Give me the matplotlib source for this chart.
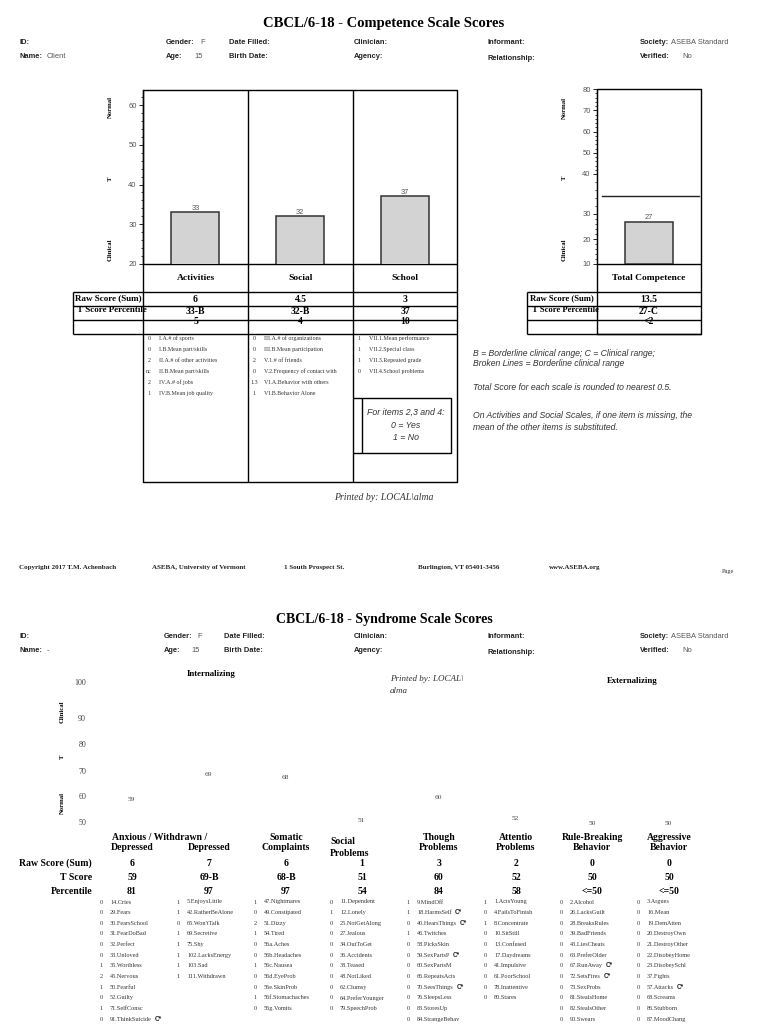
import numpy as np
import matplotlib
matplotlib.use('Agg')
import matplotlib.pyplot as plt
from matplotlib.ticker import MultipleLocator, FixedLocator

W, H = 768, 1024
SERIF = 'Liberation Serif'
SANS = 'Liberation Sans'

# ---------------- data: competence ----------------
comp_scales = ['Activities', 'Social', 'School']
comp_t = [33, 32, 37]
comp_raw = ['6', '4.5', '3']
comp_tcode = ['33-B', '32-B', '37']
comp_pct = ['5', '4', '10']
comp_yticks = [20, 30, 40, 50, 60]

total_label = ['Total Competence']
total_t = [27]
total_raw = ['13.5']
total_tcode = ['27-C']
total_pct = ['<2']
total_borderline = 34.5
total_yticks = [10, 20, 30, 40, 50, 60, 70, 80]

activities_items = [('0', 'I.A.# of sports'), ('0', 'I.B.Mean part/skills'),
                    ('2', 'II.A.# of other activities'), ('nc', 'II.B.Mean part/skills'),
                    ('2', 'IV.A.# of jobs'), ('1', 'IV.B.Mean job quality')]
social_items = [('0', 'III.A.# of organizations'), ('0', 'III.B.Mean participation'),
                ('2', 'V.1.# of friends'), ('0', 'V.2.Frequency of contact with'),
                ('1.3', 'VI.A.Behavior with others'), ('1', 'VI.B.Behavior Alone')]
school_items = [('1', 'VII.1.Mean performance'), ('1', 'VII.2.Special class'),
                ('1', 'VII.3.Repeated grade'), ('0', 'VII.4.School problems')]

# ---------------- data: syndromes ----------------
syn_headers = [('Anxious / Withdrawn /', 'Depressed'), ('', 'Depressed'),
               ('Somatic', 'Complaints'), ('Social', 'Problems'),
               ('Though', 'Problems'), ('Attentio', 'Problems'),
               ('Rule-Breaking', 'Behavior'), ('Aggressive', 'Behavior')]
syn_t = [59, 69, 68, 51, 60, 52, 50, 50]
syn_raw = ['6', '7', '6', '1', '3', '2', '0', '0']
syn_tcode = ['59', '69-B', '68-B', '51', '60', '52', '50', '50']
syn_pct = ['81', '97', '97', '54', '84', '58', '<=50', '<=50']
syn_yticks = [50, 60, 70, 80, 90, 100]

anx_items = [('0', '14.Cries'), ('0', '29.Fears'), ('0', '30.FearsSchool'), ('0', '31.FearDoBad'),
             ('0', '32.Perfect'), ('0', '33.Unloved'), ('1', '35.Worthless'), ('2', '45.Nervous'),
             ('1', '50.Fearful'), ('0', '52.Guilty'), ('1', '71.SelfConsc'), ('0', '91.ThinkSuicide C*')]
wd_items = [('1', '5.EnjoysLittle'), ('1', '42.RatherBeAlone'), ('0', "65.Won'tTalk"),
            ('1', '69.Secretive'), ('1', '75.Shy'), ('1', '102.LacksEnergy'), ('1', '103.Sad'),
            ('1', '111.Withdrawn')]
som_items = [('1', '47.Nightmares'), ('0', '49.Constipated'), ('2', '51.Dizzy'), ('1', '54.Tired'),
             ('0', '56a.Aches'), ('0', '56b.Headaches'), ('1', '56c.Nausea'), ('0', '56d.EyeProb'),
             ('0', '56e.SkinProb'), ('1', '56f.Stomachaches'), ('0', '56g.Vomits')]
soc_items = [('0', '11.Dependent'), ('1', '12.Lonely'), ('0', '25.NotGetAlong'), ('0', '27.Jealous'),
             ('0', '34.OutToGet'), ('0', '36.Accidents'), ('0', '38.Teased'), ('0', '48.NotLiked'),
             ('0', '62.Clumsy'), ('0', '64.PreferYounger'), ('0', '79.SpeechProb')]
tho_items = [('1', '9.MindOff'), ('1', '18.HarmsSelf C*'), ('0', '40.HearsThings C*'),
             ('1', '46.Twitches'), ('0', '58.PicksSkin'), ('0', '59.SexPartsP C*'),
             ('0', '60.SexPartsM'), ('0', '66.RepeatsActs'), ('0', '70.SeesThings C*'),
             ('0', '76.SleepsLess'), ('0', '83.StoresUp'), ('0', '84.StrangeBehav')]
att_items = [('1', '1.ActsYoung'), ('0', '4.FailsToFinish'), ('1', '8.Concentrate'),
             ('0', '10.SitStill'), ('0', '13.Confused'), ('0', '17.Daydreams'), ('0', '41.Impulsive'),
             ('0', '61.PoorSchool'), ('0', '78.Inattentive'), ('0', '80.Stares')]
rule_items = [('0', '2.Alcohol'), ('0', '26.LacksGuilt'), ('0', '28.BreaksRules'),
              ('0', '39.BadFriends'), ('0', '43.LiesCheats'), ('0', '63.PreferOlder'),
              ('0', '67.RunAway C*'), ('0', '72.SetsFires C*'), ('0', '73.SexProbs'),
              ('0', '81.StealsHome'), ('0', '82.StealsOther'), ('0', '90.Swears')]
agg_items = [('0', '3.Argues'), ('0', '16.Mean'), ('0', '19.DemAtten'), ('0', '20.DestroyOwn'),
             ('0', '21.DestroyOther'), ('0', '22.DisobeyHome'), ('0', '23.DisobeySchl'),
             ('0', '37.Fights'), ('0', '57.Attacks C*'), ('0', '68.Screams'), ('0', '86.Stubborn'),
             ('0', '87.MoodChang')]
syn_items = [anx_items, wd_items, som_items, soc_items, tho_items, att_items, rule_items, agg_items]

# ---------------- figure ----------------
fig = plt.figure(figsize=(W / 100, H / 100), dpi=100)
fig.patch.set_facecolor('white')
bg = fig.add_axes([0, 0, 1, 1], zorder=0)
bg.set_xlim(0, W)
bg.set_ylim(H, 0)
bg.axis('off')


def px_axes(x0, y0, x1, y1, z=2):
    a = fig.add_axes([x0 / W, 1 - y1 / H, (x1 - x0) / W, (y1 - y0) / H], zorder=z)
    a.set_facecolor('none')
    return a


def T(x, y, s, size=6, fam=SERIF, weight='normal', style='normal', ha='left', va='center',
      color='black', rot=0):
    return bg.text(x, y, s, fontsize=size, family=fam, fontweight=weight, fontstyle=style,
                   ha=ha, va=va, color=color, rotation=rot)


def L(xs, ys, lw=1.0, color='black'):
    bg.plot(xs, ys, color=color, lw=lw, solid_capstyle='butt')


def header(y1, y2, name, gx, gvx, ax_, avx, dx):
    hs = dict(size=5.4, fam=SANS, weight='bold', color='#222')
    vs = dict(size=5.4, fam=SANS, color='#555')
    T(19, y1, 'ID:', **hs)
    T(gx, y1, 'Gender:', **hs); T(gvx, y1, 'F', **vs)
    T(dx, y1, 'Date Filled:', **hs)
    T(354, y1, 'Clinician:', **hs)
    T(487, y1, 'Informant:', **hs)
    T(640, y1, 'Society:', **hs); T(671, y1, 'ASEBA Standard', **vs)
    T(19, y2, 'Name:', **hs); T(47, y2, name, **vs)
    T(ax_, y2, 'Age:', **hs); T(avx, y2, '15', **vs)
    T(dx, y2, 'Birth Date:', **hs)
    T(354, y2, 'Agency:', **hs)
    T(487, y2 + 1, 'Relationship:', **hs)
    T(640, y2, 'Verified:', **hs); T(682, y2, 'No', **vs)


# ================= Competence page =================
T(384, 24, 'CBCL/6-18 - Competence Scale Scores', size=10.5, weight='bold', ha='center')
header(43, 57, 'Client', 166, 200, 166, 194, 229)

# main competence chart
ax1 = px_axes(143, 90, 457, 264)
xs = np.arange(len(comp_scales))
b1 = ax1.bar(xs, comp_t, width=0.46, bottom=0, color='#d3d3d3', edgecolor='#333', lw=1.1, zorder=3)
ax1.bar_label(b1, padding=0.5, fontsize=5.3, color='#555', family=SANS)
ax1.set_xlim(-0.5, len(comp_scales) - 0.5)
ax1.set_ylim(20, 63.8)
ax1.set_xticks([])
ax1.yaxis.set_major_locator(FixedLocator(comp_yticks))
ax1.yaxis.set_minor_locator(MultipleLocator(2))
ax1.tick_params(axis='y', which='major', direction='out', length=3, width=0.6,
                labelsize=5.5, labelcolor='#555', pad=1.5)
ax1.tick_params(axis='y', which='minor', direction='out', length=1.5, width=0.5)
for lab in ax1.get_yticklabels():
    lab.set_family(SANS)
for s in ['top', 'right', 'bottom']:
    ax1.spines[s].set_visible(False)
ax1.spines['left'].set_linewidth(1.0)

# frame and table lines
L([143, 457, 457, 143, 143], [90, 90, 482, 482, 90])
for xv in (248, 353):
    L([xv, xv], [90, 482])
L([143, 457], [264, 264])
for yv in (292, 306, 320, 334):
    L([73, 457], [yv, yv])
L([73, 73], [292, 334])

T(110, 107, 'Normal', size=4.8, weight='bold', rot=90, ha='center')
T(110, 179, 'T', size=4.8, weight='bold', rot=90, ha='center')
T(110, 250, 'Clinical', size=4.8, weight='bold', rot=90, ha='center')

centers = [195.5, 300.5, 405]
for cx, nm, r, tc, p in zip(centers, comp_scales, comp_raw, comp_tcode, comp_pct):
    T(cx, 278, nm, size=6.8, weight='bold', ha='center')
    T(cx, 299, r, size=7, weight='bold', ha='center')
    T(cx, 311, tc, size=7, weight='bold', ha='center')
    T(cx, 322, p, size=7, weight='bold', ha='center')
T(75, 298, 'Raw Score (Sum)', size=6.5, weight='bold')
T(77, 310, 'T Score Percentile', size=6.5, weight='bold')

for (vx, tx), items in zip([(149, 159), (254, 264), (359, 369)],
                           [activities_items, social_items, school_items]):
    for i, (v, t) in enumerate(items):
        y = 338 + i * 11.1
        T(vx, y, v, size=4.3, ha='center', color='#333')
        T(tx, y, t, size=4.3, color='#333')

# "For items" box
L([353, 451, 451, 353], [398, 398, 453, 453])
L([362, 362], [398, 453])
T(406, 412, 'For items 2,3 and 4:', size=6.3, fam=SANS, style='italic', ha='center', color='#333')
T(406, 425, '0 = Yes', size=6.3, fam=SANS, style='italic', ha='center', color='#333')
T(406, 437, '1 = No', size=6.3, fam=SANS, style='italic', ha='center', color='#333')

# total competence chart
tc_vals = [10, 30, 40, 80]
tc_pos = [0, 50, 90, 175]
ax2 = px_axes(597, 89, 701, 264)
ax2.set_yscale('function', functions=(lambda v: np.interp(v, tc_vals, tc_pos),
                                      lambda u: np.interp(u, tc_pos, tc_vals)))
b2 = ax2.bar([0], total_t, width=0.46, bottom=0, color='#d3d3d3', edgecolor='#333', lw=1.1, zorder=3)
ax2.bar_label(b2, padding=0.5, fontsize=5.3, color='#555', family=SANS)
ax2.axhline(total_borderline, xmin=0.05, xmax=0.98, color='#222', lw=1.0)
ax2.set_xlim(-0.5, 0.5)
ax2.set_ylim(10, 80)
ax2.set_xticks([])
ax2.yaxis.set_major_locator(FixedLocator(total_yticks))
ax2.yaxis.set_minor_locator(MultipleLocator(2))
ax2.tick_params(axis='y', which='major', direction='out', length=3, width=0.6,
                labelsize=5.5, labelcolor='#555', pad=1.5)
ax2.tick_params(axis='y', which='minor', direction='out', length=1.5, width=0.5)
for lab in ax2.get_yticklabels():
    lab.set_family(SANS)
for s in ax2.spines.values():
    s.set_visible(False)
ax2.spines['left'].set_visible(True)

L([597, 701, 701, 597, 597], [89, 89, 334, 334, 89])
L([597, 701], [264, 264])
for yv in (292, 306, 320, 334):
    L([527, 701], [yv, yv])
L([527, 527], [292, 334])
T(564, 108, 'Normal', size=4.8, weight='bold', rot=90, ha='center')
T(564, 178, 'T', size=4.8, weight='bold', rot=90, ha='center')
T(564, 250, 'Clinical', size=4.8, weight='bold', rot=90, ha='center')
T(649, 278, total_label[0], size=6.8, weight='bold', ha='center')
T(649, 299, total_raw[0], size=7, weight='bold', ha='center')
T(649, 311, total_tcode[0], size=7, weight='bold', ha='center')
T(649, 322, total_pct[0], size=7, weight='bold', ha='center')
T(530, 298, 'Raw Score (Sum)', size=6.2, weight='bold')
T(532, 310, 'T Score Percentile', size=6.2, weight='bold')

notes = dict(size=6.2, fam=SANS, style='italic', color='#333')
T(473, 353, 'B = Borderline clinical range; C = Clinical range;', **notes)
T(473, 364, 'Broken Lines = Borderline clinical range', **notes)
T(473, 387, 'Total Score for each scale is rounded to nearest 0.5.', **notes)
T(473, 415, 'On Activities and Social Scales, if one item is missing, the', **notes)
T(473, 427, 'mean of the other items is substituted.', **notes)

T(384, 498, 'Printed by: LOCAL\\alma', size=7, style='italic', ha='center', color='#333')

# footer
fs = dict(size=5, weight='bold', color='#222')
T(19, 568, 'Copyright 2017 T.M. Achenbach', **fs)
T(152, 568, 'ASEBA, University of Vermont', **fs)
T(284, 568, '1 South Prospect St.', **fs)
T(418, 568, 'Burlington, VT 05401-3456', **fs)
T(549, 568, 'www.ASEBA.org', **fs)
T(722, 571, 'Page', size=4.5, color='#333')

# ================= Syndrome page =================
T(384, 620, 'CBCL/6-18 - Syndrome Scale Scores', size=10, weight='bold', ha='center')
header(636, 651, '-', 164, 197, 164, 191, 224)

syn_vals = [50, 60, 70, 80, 90, 100]
syn_pos = [0, 26, 51, 78, 104, 140]
ax3 = px_axes(93, 682, 707, 822)
ax3.set_yscale('function', functions=(lambda v: np.interp(v, syn_vals, syn_pos),
                                      lambda u: np.interp(u, syn_pos, syn_vals)))
sx = np.arange(len(syn_t))
ax3.bar(sx, syn_t, width=0.5, bottom=50, color='none', edgecolor='none')
for xi, v in zip(sx, syn_t):
    ax3.annotate(str(v), (xi, v), xytext=(0, -1), textcoords='offset points',
                 ha='center', va='center', fontsize=5.3, family=SERIF, color='#444',
                 annotation_clip=False)
ax3.set_xlim(-0.5, len(syn_t) - 0.5)
ax3.set_ylim(50, 100)
ax3.set_xticks([])
ax3.yaxis.set_major_locator(FixedLocator(syn_yticks))
ax3.yaxis.set_minor_locator(FixedLocator([]))
ax3.tick_params(axis='y', length=0, labelsize=5.8, labelcolor='#444', pad=5)
for lab in ax3.get_yticklabels():
    lab.set_family(SERIF)
for s in ax3.spines.values():
    s.set_visible(False)

T(62, 712, 'Clinical', size=4.8, weight='bold', rot=90, ha='center')
T(62, 757, 'T', size=4.8, weight='bold', rot=90, ha='center')
T(62, 803, 'Normal', size=4.8, weight='bold', rot=90, ha='center')
T(211, 674, 'Internalizing', size=6.3, weight='bold', ha='center')
T(632, 681, 'Externalizing', size=6.3, weight='bold', ha='center')
T(390, 679, 'Printed by: LOCAL\\', size=6.5, style='italic', color='#333')
T(390, 691, 'alma', size=6.5, style='italic', color='#333')

col_x = [132, 209, 286, 362, 439, 516, 592, 669]
for i, (cx, (h1, h2)) in enumerate(zip(col_x, syn_headers)):
    if i == 0:
        T(160, 837, h1, size=7, weight='bold', ha='center')
        T(cx, 848, h2, size=7, weight='bold', ha='center')
    elif i == 3:
        T(330, 842, h1, size=7, weight='bold')
        T(330, 853, h2, size=7, weight='bold')
    else:
        if h1:
            T(cx, 837, h1, size=7, weight='bold', ha='center')
        T(cx, 848, h2, size=7, weight='bold', ha='center')
    T(cx, 863, syn_raw[i], size=7, weight='bold', ha='center')
    T(cx, 877, syn_tcode[i], size=7, weight='bold', ha='center')
    T(cx, 892, syn_pct[i], size=7, weight='bold', ha='center')
T(92, 863, 'Raw Score (Sum)', size=7, weight='bold', ha='right')
T(92, 877, 'T Score', size=7, weight='bold', ha='right')
T(92, 892, 'Percentile', size=7, weight='bold', ha='right')

for cx, items in zip(col_x, syn_items):
    vx = cx - 31
    tx = cx - 22
    for j, (v, t) in enumerate(items):
        y = 902 + j * 10.65
        T(vx, y, v, size=4.5, ha='center', color='#333')
        crit = t.endswith(' C*')
        name = t[:-3] if crit else t
        txt = T(tx, y, name, size=4.5, color='#333')
        if crit:
            bg.annotate('C*', xy=(1, 0.5), xycoords=txt, xytext=(2, 0),
                        textcoords='offset points', va='center', ha='left',
                        fontsize=4.7, family=SANS, fontweight='bold', color='#222')

fig.savefig('out.png', dpi=100, facecolor='white')
